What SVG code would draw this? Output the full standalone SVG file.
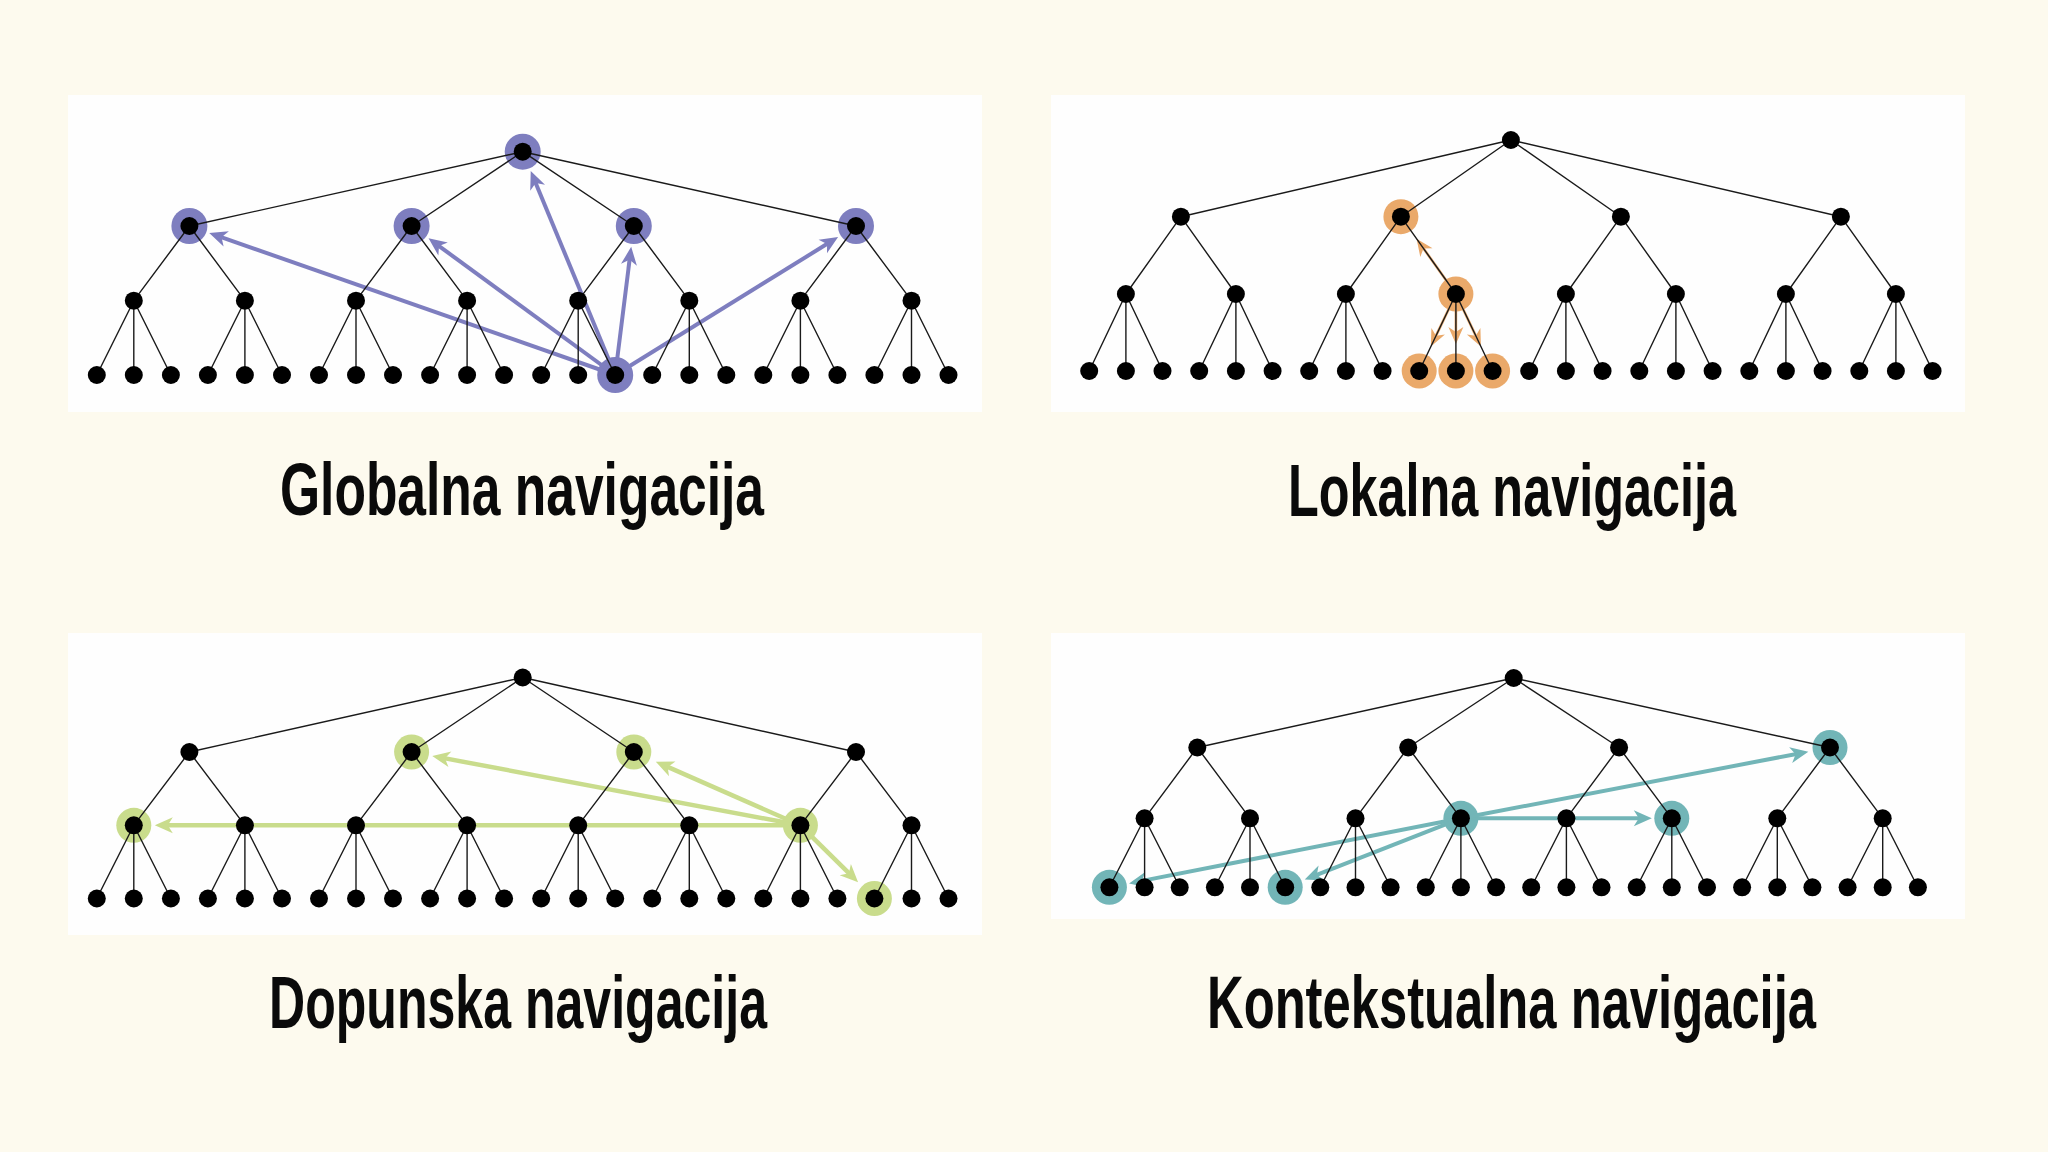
<svg xmlns="http://www.w3.org/2000/svg" width="2048" height="1152" viewBox="0 0 2048 1152">
<style>
.panel{fill:#fefefe}
.edge{fill:none;stroke:#1a1a1a;stroke-width:1.4}
.n circle{fill:#000}
.hl-p{fill:#7e7ebf}.hl-o{fill:#eaa96a}.hl-g{fill:#c9dc8c}.hl-t{fill:#72b5b7}
.ar-p{stroke:#7e7ebf;stroke-width:4;fill:none}
.ar-o{stroke:#eaa96a;stroke-width:2.6;fill:none}
.ar-g{stroke:#c9dc8c;stroke-width:4.5;fill:none}
.ar-t{stroke:#72b5b7;stroke-width:4;fill:none}
.title{font-family:'Liberation Sans Narrow','Liberation Sans',Arial,sans-serif;font-weight:bold;font-size:75px;fill:#0a0a0a}
</style>
<defs>
<marker id="m-p" markerUnits="userSpaceOnUse" viewBox="-20 -15 30 30" markerWidth="30" markerHeight="30" refX="0" refY="0" orient="auto"><path d="M8,0 L-10,-8 L-5,0 L-10,8 Z" fill="#7e7ebf"/></marker>
<marker id="m-o" markerUnits="userSpaceOnUse" viewBox="-20 -15 30 30" markerWidth="30" markerHeight="30" refX="0" refY="0" orient="auto"><path d="M8,0 L-9,-7.5 L-4,0 L-9,7.5 Z" fill="#eaa96a"/></marker>
<marker id="m-g" markerUnits="userSpaceOnUse" viewBox="-20 -15 30 30" markerWidth="30" markerHeight="30" refX="0" refY="0" orient="auto"><path d="M8,0 L-10,-8 L-5,0 L-10,8 Z" fill="#c9dc8c"/></marker>
<marker id="m-t" markerUnits="userSpaceOnUse" viewBox="-20 -15 30 30" markerWidth="30" markerHeight="30" refX="0" refY="0" orient="auto"><path d="M8,0 L-10,-8 L-5,0 L-10,8 Z" fill="#72b5b7"/></marker>
</defs>
<rect width="2048" height="1152" fill="#fdfaee"/>
<g id="panels">
<rect class="panel" x="68" y="95" width="914" height="317"/>
<rect class="panel" x="1051" y="95" width="914" height="317"/>
<rect class="panel" x="68" y="633" width="914" height="302"/>
<rect class="panel" x="1051" y="633" width="914" height="286"/>
</g>
<g id="highlights">
<circle id="h1-root" class="hl-p" cx="522.7" cy="151.7" r="18"/>
<circle id="h1-a0" class="hl-p" cx="189.4" cy="226" r="18"/>
<circle id="h1-a1" class="hl-p" cx="411.6" cy="226" r="18"/>
<circle id="h1-a2" class="hl-p" cx="633.8" cy="226" r="18"/>
<circle id="h1-a3" class="hl-p" cx="856" cy="226" r="18"/>
<circle id="h1-c14" class="hl-p" cx="615.2" cy="375" r="18"/>
<circle id="h2-a1" class="hl-o" cx="1400.9" cy="216.7" r="17.5"/>
<circle id="h2-b3" class="hl-o" cx="1455.9" cy="294" r="17.5"/>
<circle id="h2-c9" class="hl-o" cx="1419.2" cy="371" r="17.5"/>
<circle id="h2-c10" class="hl-o" cx="1455.9" cy="371" r="17.5"/>
<circle id="h2-c11" class="hl-o" cx="1492.6" cy="371" r="17.5"/>
<circle id="h3-a1" class="hl-g" cx="411.6" cy="752" r="17.5"/>
<circle id="h3-a2" class="hl-g" cx="633.8" cy="752" r="17.5"/>
<circle id="h3-b0" class="hl-g" cx="133.8" cy="825.3" r="17.5"/>
<circle id="h3-b6" class="hl-g" cx="800.4" cy="825.3" r="17.5"/>
<circle id="h3-c21" class="hl-g" cx="874.4" cy="898.5" r="17.5"/>
<circle id="h4-c0" class="hl-t" cx="1109.4" cy="887.3" r="17.5"/>
<circle id="h4-c5" class="hl-t" cx="1285.2" cy="887.3" r="17.5"/>
<circle id="h4-b3" class="hl-t" cx="1460.9" cy="818.3" r="17.5"/>
<circle id="h4-b5" class="hl-t" cx="1671.8" cy="818.3" r="17.5"/>
<circle id="h4-a3" class="hl-t" cx="1830" cy="747.5" r="17.5"/>
</g>
<g id="connectors">
<g id="arrows">
<line class="ar-p" x1="615.2" y1="375" x2="216.8" y2="235.6" marker-end="url(#m-p)"/>
<line class="ar-p" x1="615.2" y1="375" x2="435" y2="243.1" marker-end="url(#m-p)"/>
<line class="ar-p" x1="615.2" y1="375" x2="533.8" y2="178.5" marker-end="url(#m-p)"/>
<line class="ar-p" x1="615.2" y1="375" x2="630.2" y2="254.8" marker-end="url(#m-p)"/>
<line class="ar-p" x1="615.2" y1="375" x2="831.3" y2="241.3" marker-end="url(#m-p)"/>
<line class="ar-o" x1="1455.9" y1="294" x2="1421.2" y2="245.2" marker-end="url(#m-o)"/>
<line class="ar-o" x1="1455.9" y1="294" x2="1434.3" y2="339.4" marker-end="url(#m-o)"/>
<line class="ar-o" x1="1455.9" y1="294" x2="1455.9" y2="336" marker-end="url(#m-o)"/>
<line class="ar-o" x1="1455.9" y1="294" x2="1477.5" y2="339.4" marker-end="url(#m-o)"/>
<line class="ar-g" x1="800.4" y1="825.3" x2="440.1" y2="757.4" marker-end="url(#m-g)"/>
<line class="ar-g" x1="800.4" y1="825.3" x2="663.1" y2="764.9" marker-end="url(#m-g)"/>
<line class="ar-g" x1="800.4" y1="825.3" x2="162.8" y2="825.3" marker-end="url(#m-g)"/>
<line class="ar-g" x1="800.4" y1="825.3" x2="852.4" y2="876.7" marker-end="url(#m-g)"/>
<line class="ar-t" x1="1460.9" y1="818.3" x2="1136.9" y2="881.9" marker-end="url(#m-t)"/>
<line class="ar-t" x1="1460.9" y1="818.3" x2="1312.2" y2="876.7" marker-end="url(#m-t)"/>
<line class="ar-t" x1="1460.9" y1="818.3" x2="1643.8" y2="818.3" marker-end="url(#m-t)"/>
<line class="ar-t" x1="1460.9" y1="818.3" x2="1800.5" y2="753.2" marker-end="url(#m-t)"/>
</g>
<path id="edges-1" class="edge" d="M522.7,151.7L189.4,226M522.7,151.7L411.6,226M522.7,151.7L633.8,226M522.7,151.7L856,226M189.4,226L133.8,300.7M189.4,226L244.9,300.7M411.6,226L356,300.7M411.6,226L467.1,300.7M633.8,226L578.2,300.7M633.8,226L689.3,300.7M856,226L800.4,300.7M856,226L911.5,300.7M133.8,300.7l-37,74.3m37,-74.3v74.3m0,-74.3l37,74.3M244.9,300.7l-37,74.3m37,-74.3v74.3m0,-74.3l37,74.3M356,300.7l-37,74.3m37,-74.3v74.3m0,-74.3l37,74.3M467.1,300.7l-37,74.3m37,-74.3v74.3m0,-74.3l37,74.3M578.2,300.7l-37,74.3m37,-74.3v74.3m0,-74.3l37,74.3M689.3,300.7l-37,74.3m37,-74.3v74.3m0,-74.3l37,74.3M800.4,300.7l-37,74.3m37,-74.3v74.3m0,-74.3l37,74.3M911.5,300.7l-37,74.3m37,-74.3v74.3m0,-74.3l37,74.3"/>
<path id="edges-2" class="edge" d="M1510.9,140L1180.9,216.7M1510.9,140L1400.9,216.7M1510.9,140L1620.9,216.7M1510.9,140L1840.9,216.7M1180.9,216.7L1125.9,294M1180.9,216.7L1235.9,294M1400.9,216.7L1345.9,294M1400.9,216.7L1455.9,294M1620.9,216.7L1565.9,294M1620.9,216.7L1675.9,294M1840.9,216.7L1785.9,294M1840.9,216.7L1895.9,294M1125.9,294l-36.67,77m36.67,-77v77m0,-77l36.67,77M1235.9,294l-36.67,77m36.67,-77v77m0,-77l36.67,77M1345.9,294l-36.67,77m36.67,-77v77m0,-77l36.67,77M1455.9,294l-36.67,77m36.67,-77v77m0,-77l36.67,77M1565.9,294l-36.67,77m36.67,-77v77m0,-77l36.67,77M1675.9,294l-36.67,77m36.67,-77v77m0,-77l36.67,77M1785.9,294l-36.67,77m36.67,-77v77m0,-77l36.67,77M1895.9,294l-36.67,77m36.67,-77v77m0,-77l36.67,77"/>
<path id="edges-3" class="edge" d="M522.7,677.5L189.4,752M522.7,677.5L411.6,752M522.7,677.5L633.8,752M522.7,677.5L856,752M189.4,752L133.8,825.3M189.4,752L244.9,825.3M411.6,752L356,825.3M411.6,752L467.1,825.3M633.8,752L578.2,825.3M633.8,752L689.3,825.3M856,752L800.4,825.3M856,752L911.5,825.3M133.8,825.3l-37,73.2m37,-73.2v73.2m0,-73.2l37,73.2M244.9,825.3l-37,73.2m37,-73.2v73.2m0,-73.2l37,73.2M356,825.3l-37,73.2m37,-73.2v73.2m0,-73.2l37,73.2M467.1,825.3l-37,73.2m37,-73.2v73.2m0,-73.2l37,73.2M578.2,825.3l-37,73.2m37,-73.2v73.2m0,-73.2l37,73.2M689.3,825.3l-37,73.2m37,-73.2v73.2m0,-73.2l37,73.2M800.4,825.3l-37,73.2m37,-73.2v73.2m0,-73.2l37,73.2M911.5,825.3l-37,73.2m37,-73.2v73.2m0,-73.2l37,73.2"/>
<path id="edges-4" class="edge" d="M1513.7,678L1197.3,747.5M1513.7,678L1408.2,747.5M1513.7,678L1619.1,747.5M1513.7,678L1830,747.5M1197.3,747.5L1144.6,818.3M1197.3,747.5L1250,818.3M1408.2,747.5L1355.5,818.3M1408.2,747.5L1460.9,818.3M1619.1,747.5L1566.4,818.3M1619.1,747.5L1671.8,818.3M1830,747.5L1777.3,818.3M1830,747.5L1882.7,818.3M1144.6,818.3l-35.15,69m35.15,-69v69m0,-69l35.15,69M1250,818.3l-35.15,69m35.15,-69v69m0,-69l35.15,69M1355.5,818.3l-35.15,69m35.15,-69v69m0,-69l35.15,69M1460.9,818.3l-35.15,69m35.15,-69v69m0,-69l35.15,69M1566.4,818.3l-35.15,69m35.15,-69v69m0,-69l35.15,69M1671.8,818.3l-35.15,69m35.15,-69v69m0,-69l35.15,69M1777.3,818.3l-35.15,69m35.15,-69v69m0,-69l35.15,69M1882.7,818.3l-35.15,69m35.15,-69v69m0,-69l35.15,69"/>
</g>
<g id="tree-1">
<g id="t1-root" class="n"><circle cx="522.7" cy="151.7" r="9"/></g>
<g id="t1-a0" class="n"><circle cx="189.4" cy="226" r="9"/></g>
<g id="t1-a1" class="n"><circle cx="411.6" cy="226" r="9"/></g>
<g id="t1-a2" class="n"><circle cx="633.8" cy="226" r="9"/></g>
<g id="t1-a3" class="n"><circle cx="856" cy="226" r="9"/></g>
<g id="t1-b0" class="n"><circle cx="133.8" cy="300.7" r="9"/></g>
<g id="t1-b1" class="n"><circle cx="244.9" cy="300.7" r="9"/></g>
<g id="t1-b2" class="n"><circle cx="356" cy="300.7" r="9"/></g>
<g id="t1-b3" class="n"><circle cx="467.1" cy="300.7" r="9"/></g>
<g id="t1-b4" class="n"><circle cx="578.2" cy="300.7" r="9"/></g>
<g id="t1-b5" class="n"><circle cx="689.3" cy="300.7" r="9"/></g>
<g id="t1-b6" class="n"><circle cx="800.4" cy="300.7" r="9"/></g>
<g id="t1-b7" class="n"><circle cx="911.5" cy="300.7" r="9"/></g>
<g id="t1-c0" class="n"><circle cx="96.8" cy="375" r="9"/></g>
<g id="t1-c1" class="n"><circle cx="133.8" cy="375" r="9"/></g>
<g id="t1-c2" class="n"><circle cx="170.9" cy="375" r="9"/></g>
<g id="t1-c3" class="n"><circle cx="207.9" cy="375" r="9"/></g>
<g id="t1-c4" class="n"><circle cx="244.9" cy="375" r="9"/></g>
<g id="t1-c5" class="n"><circle cx="282" cy="375" r="9"/></g>
<g id="t1-c6" class="n"><circle cx="319" cy="375" r="9"/></g>
<g id="t1-c7" class="n"><circle cx="356" cy="375" r="9"/></g>
<g id="t1-c8" class="n"><circle cx="393" cy="375" r="9"/></g>
<g id="t1-c9" class="n"><circle cx="430.1" cy="375" r="9"/></g>
<g id="t1-c10" class="n"><circle cx="467.1" cy="375" r="9"/></g>
<g id="t1-c11" class="n"><circle cx="504.1" cy="375" r="9"/></g>
<g id="t1-c12" class="n"><circle cx="541.2" cy="375" r="9"/></g>
<g id="t1-c13" class="n"><circle cx="578.2" cy="375" r="9"/></g>
<g id="t1-c14" class="n"><circle cx="615.2" cy="375" r="9"/></g>
<g id="t1-c15" class="n"><circle cx="652.2" cy="375" r="9"/></g>
<g id="t1-c16" class="n"><circle cx="689.3" cy="375" r="9"/></g>
<g id="t1-c17" class="n"><circle cx="726.3" cy="375" r="9"/></g>
<g id="t1-c18" class="n"><circle cx="763.3" cy="375" r="9"/></g>
<g id="t1-c19" class="n"><circle cx="800.4" cy="375" r="9"/></g>
<g id="t1-c20" class="n"><circle cx="837.4" cy="375" r="9"/></g>
<g id="t1-c21" class="n"><circle cx="874.4" cy="375" r="9"/></g>
<g id="t1-c22" class="n"><circle cx="911.5" cy="375" r="9"/></g>
<g id="t1-c23" class="n"><circle cx="948.5" cy="375" r="9"/></g>
</g>
<g id="tree-2">
<g id="t2-root" class="n"><circle cx="1510.9" cy="140" r="9"/></g>
<g id="t2-a0" class="n"><circle cx="1180.9" cy="216.7" r="9"/></g>
<g id="t2-a1" class="n"><circle cx="1400.9" cy="216.7" r="9"/></g>
<g id="t2-a2" class="n"><circle cx="1620.9" cy="216.7" r="9"/></g>
<g id="t2-a3" class="n"><circle cx="1840.9" cy="216.7" r="9"/></g>
<g id="t2-b0" class="n"><circle cx="1125.9" cy="294" r="9"/></g>
<g id="t2-b1" class="n"><circle cx="1235.9" cy="294" r="9"/></g>
<g id="t2-b2" class="n"><circle cx="1345.9" cy="294" r="9"/></g>
<g id="t2-b3" class="n"><circle cx="1455.9" cy="294" r="9"/></g>
<g id="t2-b4" class="n"><circle cx="1565.9" cy="294" r="9"/></g>
<g id="t2-b5" class="n"><circle cx="1675.9" cy="294" r="9"/></g>
<g id="t2-b6" class="n"><circle cx="1785.9" cy="294" r="9"/></g>
<g id="t2-b7" class="n"><circle cx="1895.9" cy="294" r="9"/></g>
<g id="t2-c0" class="n"><circle cx="1089.2" cy="371" r="9"/></g>
<g id="t2-c1" class="n"><circle cx="1125.9" cy="371" r="9"/></g>
<g id="t2-c2" class="n"><circle cx="1162.5" cy="371" r="9"/></g>
<g id="t2-c3" class="n"><circle cx="1199.2" cy="371" r="9"/></g>
<g id="t2-c4" class="n"><circle cx="1235.9" cy="371" r="9"/></g>
<g id="t2-c5" class="n"><circle cx="1272.6" cy="371" r="9"/></g>
<g id="t2-c6" class="n"><circle cx="1309.2" cy="371" r="9"/></g>
<g id="t2-c7" class="n"><circle cx="1345.9" cy="371" r="9"/></g>
<g id="t2-c8" class="n"><circle cx="1382.6" cy="371" r="9"/></g>
<g id="t2-c9" class="n"><circle cx="1419.2" cy="371" r="9"/></g>
<g id="t2-c10" class="n"><circle cx="1455.9" cy="371" r="9"/></g>
<g id="t2-c11" class="n"><circle cx="1492.6" cy="371" r="9"/></g>
<g id="t2-c12" class="n"><circle cx="1529.2" cy="371" r="9"/></g>
<g id="t2-c13" class="n"><circle cx="1565.9" cy="371" r="9"/></g>
<g id="t2-c14" class="n"><circle cx="1602.6" cy="371" r="9"/></g>
<g id="t2-c15" class="n"><circle cx="1639.3" cy="371" r="9"/></g>
<g id="t2-c16" class="n"><circle cx="1675.9" cy="371" r="9"/></g>
<g id="t2-c17" class="n"><circle cx="1712.6" cy="371" r="9"/></g>
<g id="t2-c18" class="n"><circle cx="1749.3" cy="371" r="9"/></g>
<g id="t2-c19" class="n"><circle cx="1785.9" cy="371" r="9"/></g>
<g id="t2-c20" class="n"><circle cx="1822.6" cy="371" r="9"/></g>
<g id="t2-c21" class="n"><circle cx="1859.3" cy="371" r="9"/></g>
<g id="t2-c22" class="n"><circle cx="1895.9" cy="371" r="9"/></g>
<g id="t2-c23" class="n"><circle cx="1932.6" cy="371" r="9"/></g>
</g>
<g id="tree-3">
<g id="t3-root" class="n"><circle cx="522.7" cy="677.5" r="9"/></g>
<g id="t3-a0" class="n"><circle cx="189.4" cy="752" r="9"/></g>
<g id="t3-a1" class="n"><circle cx="411.6" cy="752" r="9"/></g>
<g id="t3-a2" class="n"><circle cx="633.8" cy="752" r="9"/></g>
<g id="t3-a3" class="n"><circle cx="856" cy="752" r="9"/></g>
<g id="t3-b0" class="n"><circle cx="133.8" cy="825.3" r="9"/></g>
<g id="t3-b1" class="n"><circle cx="244.9" cy="825.3" r="9"/></g>
<g id="t3-b2" class="n"><circle cx="356" cy="825.3" r="9"/></g>
<g id="t3-b3" class="n"><circle cx="467.1" cy="825.3" r="9"/></g>
<g id="t3-b4" class="n"><circle cx="578.2" cy="825.3" r="9"/></g>
<g id="t3-b5" class="n"><circle cx="689.3" cy="825.3" r="9"/></g>
<g id="t3-b6" class="n"><circle cx="800.4" cy="825.3" r="9"/></g>
<g id="t3-b7" class="n"><circle cx="911.5" cy="825.3" r="9"/></g>
<g id="t3-c0" class="n"><circle cx="96.8" cy="898.5" r="9"/></g>
<g id="t3-c1" class="n"><circle cx="133.8" cy="898.5" r="9"/></g>
<g id="t3-c2" class="n"><circle cx="170.9" cy="898.5" r="9"/></g>
<g id="t3-c3" class="n"><circle cx="207.9" cy="898.5" r="9"/></g>
<g id="t3-c4" class="n"><circle cx="244.9" cy="898.5" r="9"/></g>
<g id="t3-c5" class="n"><circle cx="282" cy="898.5" r="9"/></g>
<g id="t3-c6" class="n"><circle cx="319" cy="898.5" r="9"/></g>
<g id="t3-c7" class="n"><circle cx="356" cy="898.5" r="9"/></g>
<g id="t3-c8" class="n"><circle cx="393" cy="898.5" r="9"/></g>
<g id="t3-c9" class="n"><circle cx="430.1" cy="898.5" r="9"/></g>
<g id="t3-c10" class="n"><circle cx="467.1" cy="898.5" r="9"/></g>
<g id="t3-c11" class="n"><circle cx="504.1" cy="898.5" r="9"/></g>
<g id="t3-c12" class="n"><circle cx="541.2" cy="898.5" r="9"/></g>
<g id="t3-c13" class="n"><circle cx="578.2" cy="898.5" r="9"/></g>
<g id="t3-c14" class="n"><circle cx="615.2" cy="898.5" r="9"/></g>
<g id="t3-c15" class="n"><circle cx="652.2" cy="898.5" r="9"/></g>
<g id="t3-c16" class="n"><circle cx="689.3" cy="898.5" r="9"/></g>
<g id="t3-c17" class="n"><circle cx="726.3" cy="898.5" r="9"/></g>
<g id="t3-c18" class="n"><circle cx="763.3" cy="898.5" r="9"/></g>
<g id="t3-c19" class="n"><circle cx="800.4" cy="898.5" r="9"/></g>
<g id="t3-c20" class="n"><circle cx="837.4" cy="898.5" r="9"/></g>
<g id="t3-c21" class="n"><circle cx="874.4" cy="898.5" r="9"/></g>
<g id="t3-c22" class="n"><circle cx="911.5" cy="898.5" r="9"/></g>
<g id="t3-c23" class="n"><circle cx="948.5" cy="898.5" r="9"/></g>
</g>
<g id="tree-4">
<g id="t4-root" class="n"><circle cx="1513.7" cy="678" r="9"/></g>
<g id="t4-a0" class="n"><circle cx="1197.3" cy="747.5" r="9"/></g>
<g id="t4-a1" class="n"><circle cx="1408.2" cy="747.5" r="9"/></g>
<g id="t4-a2" class="n"><circle cx="1619.1" cy="747.5" r="9"/></g>
<g id="t4-a3" class="n"><circle cx="1830" cy="747.5" r="9"/></g>
<g id="t4-b0" class="n"><circle cx="1144.6" cy="818.3" r="9"/></g>
<g id="t4-b1" class="n"><circle cx="1250" cy="818.3" r="9"/></g>
<g id="t4-b2" class="n"><circle cx="1355.5" cy="818.3" r="9"/></g>
<g id="t4-b3" class="n"><circle cx="1460.9" cy="818.3" r="9"/></g>
<g id="t4-b4" class="n"><circle cx="1566.4" cy="818.3" r="9"/></g>
<g id="t4-b5" class="n"><circle cx="1671.8" cy="818.3" r="9"/></g>
<g id="t4-b6" class="n"><circle cx="1777.3" cy="818.3" r="9"/></g>
<g id="t4-b7" class="n"><circle cx="1882.7" cy="818.3" r="9"/></g>
<g id="t4-c0" class="n"><circle cx="1109.4" cy="887.3" r="9"/></g>
<g id="t4-c1" class="n"><circle cx="1144.6" cy="887.3" r="9"/></g>
<g id="t4-c2" class="n"><circle cx="1179.7" cy="887.3" r="9"/></g>
<g id="t4-c3" class="n"><circle cx="1214.9" cy="887.3" r="9"/></g>
<g id="t4-c4" class="n"><circle cx="1250" cy="887.3" r="9"/></g>
<g id="t4-c5" class="n"><circle cx="1285.2" cy="887.3" r="9"/></g>
<g id="t4-c6" class="n"><circle cx="1320.3" cy="887.3" r="9"/></g>
<g id="t4-c7" class="n"><circle cx="1355.5" cy="887.3" r="9"/></g>
<g id="t4-c8" class="n"><circle cx="1390.6" cy="887.3" r="9"/></g>
<g id="t4-c9" class="n"><circle cx="1425.8" cy="887.3" r="9"/></g>
<g id="t4-c10" class="n"><circle cx="1460.9" cy="887.3" r="9"/></g>
<g id="t4-c11" class="n"><circle cx="1496.1" cy="887.3" r="9"/></g>
<g id="t4-c12" class="n"><circle cx="1531.2" cy="887.3" r="9"/></g>
<g id="t4-c13" class="n"><circle cx="1566.4" cy="887.3" r="9"/></g>
<g id="t4-c14" class="n"><circle cx="1601.5" cy="887.3" r="9"/></g>
<g id="t4-c15" class="n"><circle cx="1636.7" cy="887.3" r="9"/></g>
<g id="t4-c16" class="n"><circle cx="1671.8" cy="887.3" r="9"/></g>
<g id="t4-c17" class="n"><circle cx="1707" cy="887.3" r="9"/></g>
<g id="t4-c18" class="n"><circle cx="1742.1" cy="887.3" r="9"/></g>
<g id="t4-c19" class="n"><circle cx="1777.3" cy="887.3" r="9"/></g>
<g id="t4-c20" class="n"><circle cx="1812.4" cy="887.3" r="9"/></g>
<g id="t4-c21" class="n"><circle cx="1847.6" cy="887.3" r="9"/></g>
<g id="t4-c22" class="n"><circle cx="1882.7" cy="887.3" r="9"/></g>
<g id="t4-c23" class="n"><circle cx="1917.9" cy="887.3" r="9"/></g>
</g>
<g id="titles">
<text class="title" x="280" y="515" textLength="484" lengthAdjust="spacingAndGlyphs">Globalna navigacija</text>
<text class="title" x="1288" y="516" textLength="448" lengthAdjust="spacingAndGlyphs">Lokalna navigacija</text>
<text class="title" x="269" y="1028" textLength="498" lengthAdjust="spacingAndGlyphs">Dopunska navigacija</text>
<text class="title" x="1207" y="1028" textLength="609" lengthAdjust="spacingAndGlyphs">Kontekstualna navigacija</text>
</g>
</svg>
